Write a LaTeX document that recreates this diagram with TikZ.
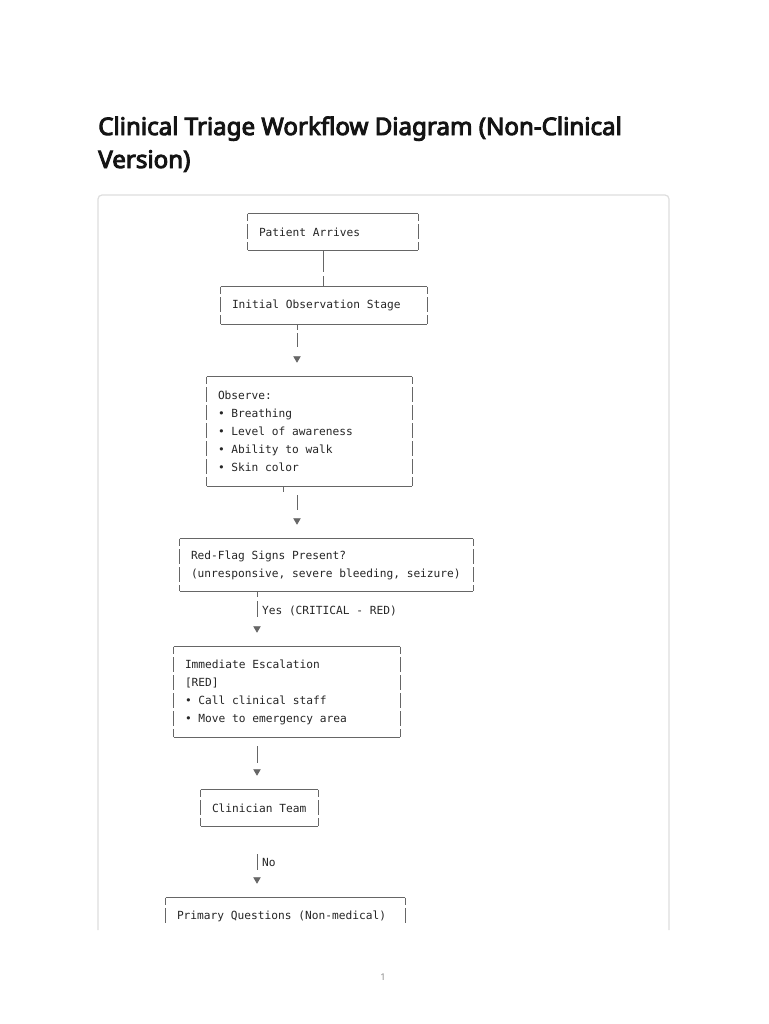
\documentclass[tikz,border=0pt]{standalone}
\usepackage{fontspec}
\setmainfont{Noto Sans}[AutoFakeBold=4]
\newfontfamily\boxfont{DejaVu Sans Mono}
\usetikzlibrary{arrows.meta}

\begin{document}
\begin{tikzpicture}[x=0.75pt,y=-0.75pt,
  frm/.style={draw=black!13,line width=0.9pt,rounded corners=3pt},
  bx/.style={text width=#1,inner xsep=8.25pt,inner ysep=0pt,align=flush left,text=black!85,font={\fontsize{8.4pt}{13.5pt}\boxfont}},
  hb/.style={draw=black!60,line width=0.55pt},
  vb/.style={hb,dash pattern=on 11.25pt off 2.25pt,dash phase=5.625pt},
  ar/.style={hb,-{Triangle[length=4.8pt,width=5.5pt]},shorten >=10.5pt},
  lb/.style={anchor=west,inner sep=0pt,xshift=3.5pt,text=black!85,font={\fontsize{8.4pt}{13.5pt}\boxfont}}]
  \useasboundingbox (0,0) rectangle (768,1024);
  \fill[white] (0,0) rectangle (768,1024);
  \node[anchor=base west,text width=450pt,align=flush left,inner sep=0pt,text=black!92,font={\fontsize{18.1pt}{24.75pt}\selectfont\bfseries}] (ttl) at (98,135) {Clinical Triage Workflow Diagram (Non-Clinical\\Version)};
  \draw[frm] (98,930) -- (98,195) -- (669,195) -- (669,930);
  \begin{scope}
    \clip (0,0) rectangle (768,925);
    \node[bx=111pt,minimum height=27pt] (pa) at (333,232) {Patient Arrives};
    \node[bx=138pt,minimum height=27.75pt] (ios) at (324,305.5) {Initial Observation Stage};
    \node[bx=137.25pt,minimum height=81.75pt] (obs) at (309.5,431.5) {Observe:\\• Breathing\\• Level of awareness\\• Ability to walk\\• Skin color};
    \node[bx=203.25pt,minimum height=39pt] (rf) at (326.5,565) {Red-Flag Signs Present?\\(unresponsive, severe bleeding, seizure)};
    \node[bx=153pt,minimum height=67.5pt] (ie) at (287,692) {Immediate Escalation\\{}[RED]\\• Call clinical staff\\• Move to emergency area};
    \node[bx=71.25pt,minimum height=27pt] (ct) at (259.5,808) {Clinician Team};
    \node[bx=162.75pt,minimum height=27pt] (pq) at (285.5,916) {Primary Questions (Non-medical)};
    \foreach \b in {pa,ios,obs,rf,ie,ct,pq}{
      \draw[hb] (\b.north west) -- (\b.north east) (\b.south west) -- (\b.south east);
      \draw[vb] (\b.north west) -- (\b.south west) (\b.north east) -- (\b.south east);
    }
    \coordinate (k0) at (323,0); \coordinate (k1) at (297,0); \coordinate (k2) at (283,0); \coordinate (k3) at (257,0);
    \draw[hb,dash pattern=on 16.5pt off 3pt on 20pt off 1pt] (pa.south -| k0) -- (ios.north -| k0);
    \draw[ar,dash pattern=on 4.5pt off 2.25pt on 10.5pt off 20pt] (ios.south -| k1) -- (obs.north -| k1);
    \draw[ar,dash pattern=on 11.25pt off 8pt] (obs.south -| k2) -- ++(0,6) (obs.south -| k1) ++(0,9) -- (rf.north -| k1);
    \draw[ar,dash pattern=on 4.5pt off 3pt on 12pt off 15pt] (rf.south -| k3) -- node[lb,pos=0.36]{Yes (CRITICAL - RED)} (ie.north -| k3);
    \draw[ar,shorten <=6.75pt,dash pattern=on 12.75pt off 8pt] (ie.south -| k3) -- (ct.north -| k3);
    \draw[ar,shorten <=21pt,dash pattern=on 12pt off 8pt] (ct.south -| k3) -- node[lb,pos=0.5]{No} (pq.north -| k3);
  \end{scope}
  \node[text=black!45,font=\fontsize{7pt}{8pt}\selectfont] (pg) at (383,977) {1};
\end{tikzpicture}
\end{document}
